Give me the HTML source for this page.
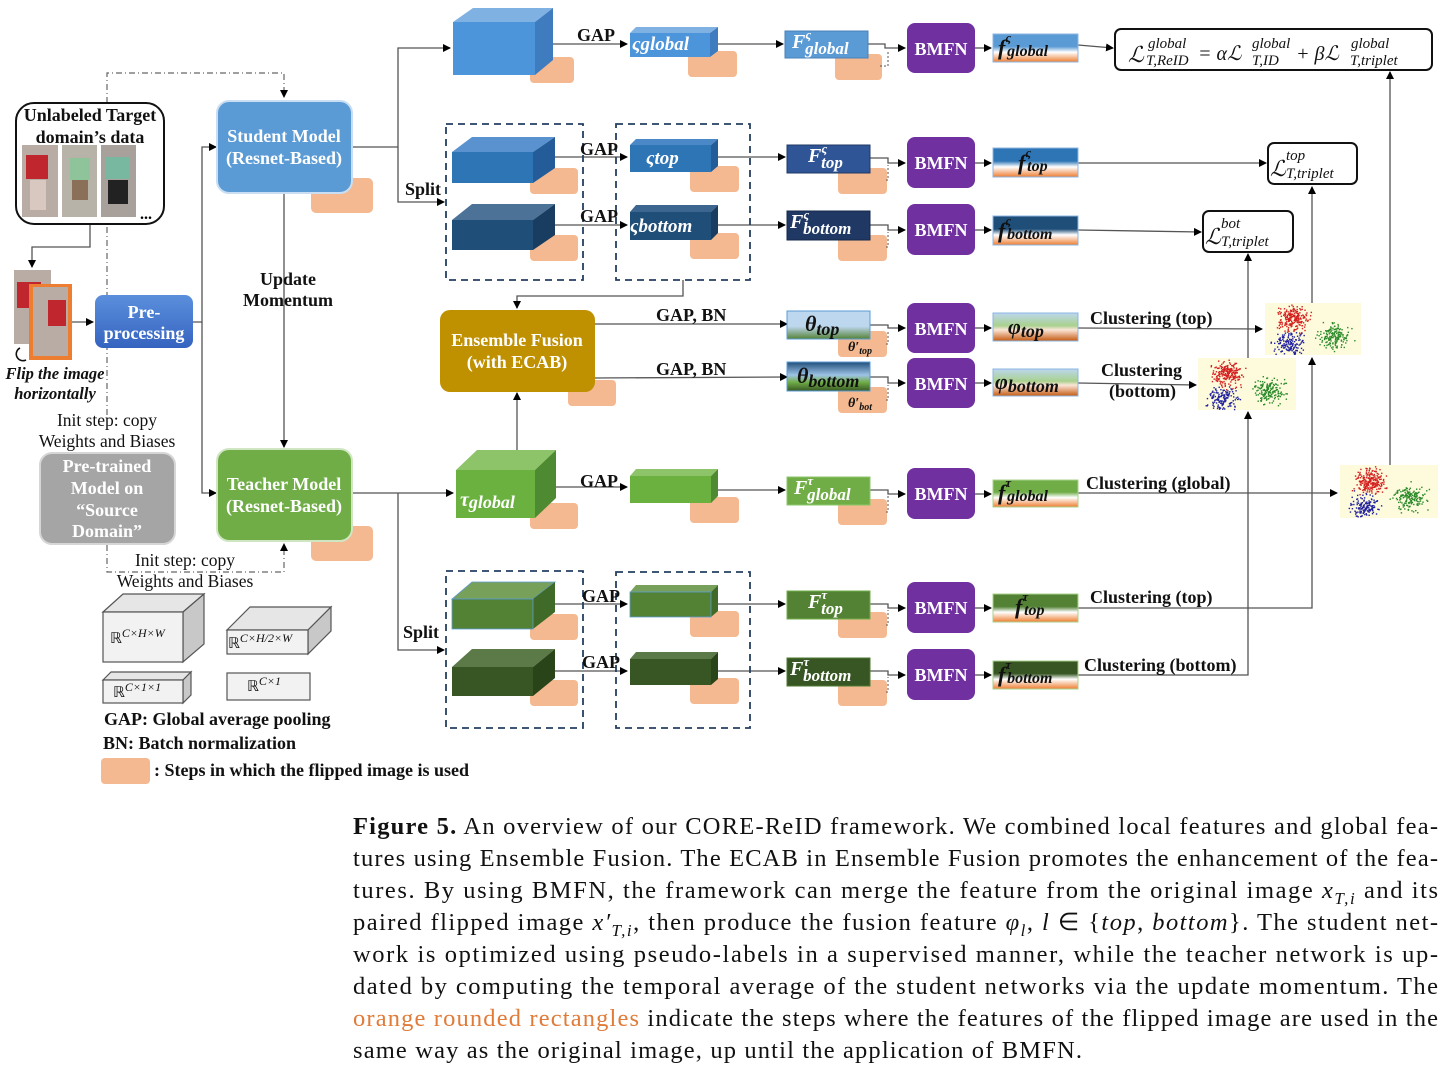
<!DOCTYPE html>
<html><head><meta charset="utf-8"><style>
html,body{margin:0;padding:0;background:#fff;width:1440px;height:1068px;overflow:hidden}
svg{display:block}
text{font-family:"Liberation Serif",serif}
.l{font-size:18px;font-weight:bold;fill:#111}
.w{font-size:18px;font-weight:bold;fill:#fff}
.bm{font-size:18px;font-weight:bold;fill:#fff;text-anchor:middle}
.m{font-style:italic;font-weight:bold}
.c{font-size:24.5px;fill:#111}
</style></head><body>
<svg width="1440" height="1068" viewBox="0 0 1440 1068" xmlns="http://www.w3.org/2000/svg">
<defs>
<marker id="a" markerWidth="8" markerHeight="8" refX="7" refY="4" orient="auto" markerUnits="userSpaceOnUse"><path d="M0,0 L8,4 L0,8z" fill="#000"/></marker>
<linearGradient id="gB" x1="0" y1="0" x2="0" y2="1"><stop offset="0" stop-color="#5b9bd5"/><stop offset=".45" stop-color="#5b9bd5"/><stop offset=".65" stop-color="#fff"/><stop offset="1" stop-color="#ed7d31"/></linearGradient>
<linearGradient id="gT" x1="0" y1="0" x2="0" y2="1"><stop offset="0" stop-color="#2e75b6"/><stop offset=".45" stop-color="#2e75b6"/><stop offset=".65" stop-color="#fff"/><stop offset="1" stop-color="#ed7d31"/></linearGradient>
<linearGradient id="gD" x1="0" y1="0" x2="0" y2="1"><stop offset="0" stop-color="#1f4e79"/><stop offset=".45" stop-color="#1f4e79"/><stop offset=".65" stop-color="#fff"/><stop offset="1" stop-color="#ed7d31"/></linearGradient>
<linearGradient id="gG" x1="0" y1="0" x2="0" y2="1"><stop offset="0" stop-color="#70ad47"/><stop offset=".45" stop-color="#70ad47"/><stop offset=".65" stop-color="#fff"/><stop offset="1" stop-color="#ed7d31"/></linearGradient>
<linearGradient id="gG2" x1="0" y1="0" x2="0" y2="1"><stop offset="0" stop-color="#548235"/><stop offset=".45" stop-color="#548235"/><stop offset=".65" stop-color="#fff"/><stop offset="1" stop-color="#ed7d31"/></linearGradient>
<linearGradient id="gG3" x1="0" y1="0" x2="0" y2="1"><stop offset="0" stop-color="#375623"/><stop offset=".45" stop-color="#375623"/><stop offset=".65" stop-color="#fff"/><stop offset="1" stop-color="#ed7d31"/></linearGradient>
<linearGradient id="gP" x1="0" y1="0" x2="0" y2="1"><stop offset="0" stop-color="#bdd7ee"/><stop offset=".45" stop-color="#a9d18e"/><stop offset=".6" stop-color="#fbe5d6"/><stop offset="1" stop-color="#c55a11"/></linearGradient>
<linearGradient id="gTh" x1="0" y1="0" x2="0" y2="1"><stop offset="0" stop-color="#bdd7ee"/><stop offset=".55" stop-color="#bdd7ee"/><stop offset="1" stop-color="#548235"/></linearGradient>
<linearGradient id="gTb" x1="0" y1="0" x2="0" y2="1"><stop offset="0" stop-color="#1f4e79"/><stop offset=".45" stop-color="#9dc3e6"/><stop offset=".7" stop-color="#70ad47"/><stop offset="1" stop-color="#385723"/></linearGradient>
<linearGradient id="gPre" x1="0" y1="0" x2="0" y2="1"><stop offset="0" stop-color="#5b8fdc"/><stop offset="1" stop-color="#3564c0"/></linearGradient>
</defs>

<g fill="#f4b990">
<rect x="530" y="57" width="44" height="26" rx="4"/>
<rect x="688" y="51" width="49" height="26" rx="4"/>
<rect x="835" y="54" width="47" height="26" rx="4"/>
<rect x="530" y="168" width="48" height="26" rx="4"/>
<rect x="690" y="166" width="49" height="26" rx="4"/>
<rect x="838" y="168" width="49" height="26" rx="4"/>
<rect x="530" y="235" width="48" height="26" rx="4"/>
<rect x="690" y="233" width="49" height="26" rx="4"/>
<rect x="838" y="235" width="49" height="26" rx="4"/>
<rect x="311" y="178" width="62" height="35" rx="5"/>
<rect x="568" y="380" width="48" height="26" rx="4"/>
<rect x="838" y="331" width="49" height="26" rx="4"/>
<rect x="838" y="387" width="49" height="26" rx="4"/>
<rect x="311" y="526" width="62" height="35" rx="5"/>
<rect x="530" y="503" width="48" height="26" rx="4"/>
<rect x="690" y="497" width="49" height="26" rx="4"/>
<rect x="838" y="499" width="49" height="26" rx="4"/>
<rect x="530" y="614" width="48" height="26" rx="4"/>
<rect x="690" y="611" width="49" height="26" rx="4"/>
<rect x="838" y="612" width="49" height="26" rx="4"/>
<rect x="530" y="680" width="48" height="26" rx="4"/>
<rect x="690" y="678" width="49" height="26" rx="4"/>
<rect x="838" y="680" width="49" height="26" rx="4"/>
<rect x="101" y="758" width="49" height="26" rx="4"/>
</g>

<g stroke="#555" stroke-width="1.3" fill="none">
<polyline points="352,147 398,147 398,48 450,48" marker-end="url(#a)"/>
<polyline points="398,147 398,202 444,202" marker-end="url(#a)"/>
<line x1="553" y1="44" x2="627" y2="44" marker-end="url(#a)"/>
<line x1="710" y1="44" x2="783" y2="44" marker-end="url(#a)"/>
<polyline points="868,44 885,44 885,48 905,48" marker-end="url(#a)"/>
<line x1="975" y1="48" x2="991" y2="48" marker-end="url(#a)"/>
<line x1="1078" y1="45" x2="1113" y2="48" marker-end="url(#a)"/>
<line x1="555" y1="157" x2="627" y2="157" marker-end="url(#a)"/>
<line x1="718" y1="157" x2="785" y2="157" marker-end="url(#a)"/>
<polyline points="870,158 888,158 888,163 905,163" marker-end="url(#a)"/>
<line x1="975" y1="163" x2="991" y2="163" marker-end="url(#a)"/>
<line x1="1078" y1="163" x2="1266" y2="163" marker-end="url(#a)"/>
<line x1="555" y1="225" x2="627" y2="225" marker-end="url(#a)"/>
<line x1="718" y1="225" x2="785" y2="225" marker-end="url(#a)"/>
<polyline points="870,225 888,225 888,230 905,230" marker-end="url(#a)"/>
<line x1="975" y1="230" x2="991" y2="230" marker-end="url(#a)"/>
<line x1="1078" y1="230" x2="1201" y2="232" marker-end="url(#a)"/>
<polyline points="683,280 683,296 517,296 517,308" marker-end="url(#a)"/>
<line x1="595" y1="324" x2="787" y2="324" marker-end="url(#a)"/>
<line x1="595" y1="378" x2="787" y2="377" marker-end="url(#a)"/>
<polyline points="870,325 888,325 888,328 905,328" marker-end="url(#a)"/>
<polyline points="870,377 888,377 888,383 905,383" marker-end="url(#a)"/>
<line x1="975" y1="328" x2="991" y2="328" marker-end="url(#a)"/>
<line x1="975" y1="383" x2="991" y2="383" marker-end="url(#a)"/>
<line x1="1078" y1="328" x2="1262" y2="329" marker-end="url(#a)"/>
<line x1="1078" y1="383" x2="1196" y2="385" marker-end="url(#a)"/>
<line x1="1312" y1="303" x2="1312" y2="187" marker-end="url(#a)"/>
<line x1="1248" y1="358" x2="1248" y2="254" marker-end="url(#a)"/>
<line x1="1390" y1="465" x2="1390" y2="72" marker-end="url(#a)"/>
<line x1="517" y1="452" x2="517" y2="393" marker-end="url(#a)"/>
<polyline points="352,493 398,493 398,493 453,493" marker-end="url(#a)"/>
<polyline points="398,493 398,650 444,650" marker-end="url(#a)"/>
<line x1="556" y1="487" x2="627" y2="487" marker-end="url(#a)"/>
<line x1="718" y1="490" x2="785" y2="490" marker-end="url(#a)"/>
<polyline points="870,490 888,490 888,494 905,494" marker-end="url(#a)"/>
<line x1="975" y1="494" x2="991" y2="494" marker-end="url(#a)"/>
<line x1="1078" y1="493" x2="1337" y2="493" marker-end="url(#a)"/>
<line x1="555" y1="604" x2="627" y2="604" marker-end="url(#a)"/>
<line x1="718" y1="604" x2="785" y2="604" marker-end="url(#a)"/>
<polyline points="870,604 888,604 888,608 905,608" marker-end="url(#a)"/>
<line x1="975" y1="608" x2="991" y2="608" marker-end="url(#a)"/>
<polyline points="1078,608 1312,608 1312,358" marker-end="url(#a)"/>
<line x1="555" y1="671" x2="627" y2="671" marker-end="url(#a)"/>
<line x1="718" y1="671" x2="785" y2="671" marker-end="url(#a)"/>
<polyline points="870,671 888,671 888,675 905,675" marker-end="url(#a)"/>
<line x1="975" y1="675" x2="991" y2="675" marker-end="url(#a)"/>
<polyline points="1078,675 1248,675 1248,412" marker-end="url(#a)"/>
<line x1="284" y1="193" x2="284" y2="447" marker-end="url(#a)"/>
<polyline points="90,225 90,247 32,247 32,267" marker-end="url(#a)"/>
<line x1="72" y1="322" x2="93" y2="322" marker-end="url(#a)"/>
<polyline points="193,322 202,322 202,147 216,147" marker-end="url(#a)"/>
<polyline points="202,322 202,493 216,493" marker-end="url(#a)"/>
</g>
<g stroke="#555" stroke-width="1" fill="none" stroke-dasharray="2,2">
<polyline points="880,66 888,66 888,50"/><polyline points="886,180 888,180 888,165"/><polyline points="886,247 888,247 888,232"/>
<polyline points="886,344 888,344 888,330"/><polyline points="886,400 888,400 888,385"/><polyline points="886,512 888,512 888,496"/>
<polyline points="886,625 888,625 888,610"/><polyline points="886,692 888,692 888,677"/>
</g>
<g stroke="#666" stroke-width="1.2" fill="none" stroke-dasharray="6,3,1,3">
<polyline points="107,415 107,73 284,73 284,97" marker-end="url(#a)"/>
<polyline points="107,545 107,572 284,572 284,544" marker-end="url(#a)"/>
</g>
<g fill="none" stroke="#243f60" stroke-width="1.8" stroke-dasharray="7,5">
<rect x="446" y="124" width="137" height="156"/><rect x="616" y="124" width="134" height="156"/>
<rect x="446" y="571" width="137" height="157"/><rect x="616" y="572" width="134" height="156"/>
</g>

<polygon points="453,22 473,8 553,8 535,22" fill="#7fb1e3"/><polygon points="535,22 553,8 553,60 535,75" fill="#3f7cbf"/><rect x="453" y="22" width="82" height="53" fill="#4d95db"/>
<polygon points="452,152 472,137 555,137 533,152" fill="#5a92cf"/><polygon points="533,152 555,137 555,168 533,183" fill="#245c99"/><rect x="452" y="152" width="81" height="31" fill="#2e75b6"/>
<polygon points="452,220 472,204 555,204 533,220" fill="#4c7297"/><polygon points="533,220 555,204 555,235 533,250" fill="#183d60"/><rect x="452" y="220" width="81" height="30" fill="#1f4e79"/>
<polygon points="630,33 636,27 718,27 710,33" fill="#7fb1e3"/><polygon points="710,33 718,27 718,51 710,57" fill="#3f7cbf"/><rect x="630" y="33" width="80" height="24" fill="#4d95db"/>
<polygon points="630,145 636,139 718,139 711,145" fill="#4a88c8"/><polygon points="711,145 718,139 718,166 711,172" fill="#245c99"/><rect x="630" y="145" width="81" height="27" fill="#2e75b6"/>
<polygon points="630,212 636,205 718,205 711,212" fill="#3c6690"/><polygon points="711,212 718,205 718,233 711,240" fill="#183d60"/><rect x="630" y="212" width="81" height="28" fill="#1f4e79"/>
<polygon points="456,470 477,450 556,450 535,470" fill="#8dc46a"/><polygon points="535,470 556,450 556,498 535,518" fill="#4e8a31"/><rect x="456" y="470" width="79" height="48" fill="#6bb140"/>
<polygon points="630,476 636,469 718,469 711,476" fill="#8dc46a"/><polygon points="711,476 718,469 718,496 711,503" fill="#4e8a31"/><rect x="630" y="476" width="81" height="27" fill="#6bb140"/>
<polygon points="452,599 472,582 555,582 533,599" fill="#77a05b" stroke="#5b9bd5" stroke-width=".8"/><polygon points="533,599 555,582 555,612 533,629" fill="#3f6a28"/><rect x="452" y="599" width="81" height="30" fill="#548235" stroke="#5b9bd5" stroke-width=".8"/>
<polygon points="452,667 472,649 555,649 533,667" fill="#5c7a48"/><polygon points="533,667 555,649 555,678 533,696" fill="#2a4419"/><rect x="452" y="667" width="81" height="29" fill="#375623"/>
<polygon points="630,592 636,585 718,585 711,592" fill="#77a05b"/><polygon points="711,592 718,585 718,611 711,617" fill="#3f6a28"/><rect x="630" y="592" width="81" height="25" fill="#548235" stroke="#5b9bd5" stroke-width=".8"/>
<polygon points="630,659 636,652 718,652 711,659" fill="#5c7a48"/><polygon points="711,659 718,652 718,679 711,685" fill="#2a4419"/><rect x="630" y="659" width="81" height="26" fill="#375623"/>

<rect x="785" y="31" width="83" height="27" fill="#5b9bd5" stroke="#4a80b8"/>
<rect x="787" y="145" width="83" height="28" fill="#2f5597" stroke="#203864"/>
<rect x="787" y="211" width="83" height="29" fill="#1f3864" stroke="#152848"/>
<rect x="787" y="311" width="83" height="28" fill="url(#gTh)" stroke="#5b9bd5"/>
<rect x="787" y="362" width="83" height="29" fill="url(#gTb)" stroke="#5b9bd5"/>
<rect x="787" y="477" width="83" height="28" fill="#70ad47" stroke="#8bc66a"/>
<rect x="787" y="591" width="83" height="28" fill="#548235" stroke="#70ad47"/>
<rect x="787" y="658" width="83" height="28" fill="#375623" stroke="#4e7a33"/>
<rect x="993" y="34" width="85" height="28" fill="url(#gB)" stroke="#8db4e2"/>
<rect x="993" y="148" width="85" height="29" fill="url(#gT)" stroke="#8db4e2"/>
<rect x="993" y="216" width="85" height="29" fill="url(#gD)" stroke="#8db4e2"/>
<rect x="993" y="313" width="85" height="28" fill="url(#gP)" stroke="#8db4e2"/>
<rect x="993" y="369" width="85" height="27" fill="url(#gP)" stroke="#8db4e2"/>
<rect x="993" y="480" width="85" height="27" fill="url(#gG)" stroke="#a9d18e"/>
<rect x="993" y="594" width="85" height="28" fill="url(#gG2)" stroke="#a9d18e"/>
<rect x="993" y="661" width="85" height="28" fill="url(#gG3)" stroke="#a9d18e"/>
<g fill="#7030a0">
<rect x="907" y="23" width="68" height="50" rx="8"/><rect x="907" y="137" width="68" height="51" rx="8"/><rect x="907" y="204" width="68" height="51" rx="8"/>
<rect x="907" y="303" width="68" height="50" rx="8"/><rect x="907" y="358" width="68" height="50" rx="8"/><rect x="907" y="468" width="68" height="51" rx="8"/>
<rect x="907" y="582" width="68" height="51" rx="8"/><rect x="907" y="649" width="68" height="51" rx="8"/>
</g>
<g class="bm"><text x="941" y="55">BMFN</text><text x="941" y="169">BMFN</text><text x="941" y="236">BMFN</text><text x="941" y="335">BMFN</text><text x="941" y="390">BMFN</text><text x="941" y="500">BMFN</text><text x="941" y="614">BMFN</text><text x="941" y="681">BMFN</text></g>

<g fill="#fff" stroke="#111" stroke-width="2"><rect x="1115" y="29" width="317" height="41" rx="6"/><rect x="1268" y="143" width="89" height="41" rx="6"/><rect x="1203" y="211" width="90" height="41" rx="6"/></g>
<g font-style="italic" fill="#111">
<text x="1128" y="62" font-size="22">ℒ</text><text x="1146" y="65" font-size="15">T,ReID</text><text x="1148" y="48" font-size="15">global</text>
<text x="1198" y="60" font-size="20">= αℒ</text><text x="1252" y="65" font-size="15">T,ID</text><text x="1252" y="48" font-size="15">global</text>
<text x="1296" y="60" font-size="20">+ βℒ</text><text x="1350" y="65" font-size="15">T,triplet</text><text x="1351" y="48" font-size="15">global</text>
<text x="1270" y="176" font-size="22">ℒ</text><text x="1286" y="160" font-size="15">top</text><text x="1286" y="178" font-size="15">T,triplet</text>
<text x="1205" y="244" font-size="22">ℒ</text><text x="1221" y="228" font-size="15">bot</text><text x="1221" y="246" font-size="15">T,triplet</text>
</g>

<rect x="1265" y="303" width="96" height="52" fill="#fdfbdc"/>
<rect x="1198" y="358" width="98" height="52" fill="#fdfbdc"/>
<rect x="1340" y="465" width="98" height="53" fill="#fdfbdc"/>
<g id="sc"></g>

<g class="w m">
<text x="632" y="50" font-size="19">ς<tspan>global</tspan></text>
<text x="646" y="164" font-size="19">ς<tspan>top</tspan></text>
<text x="630" y="232" font-size="19">ς<tspan>bottom</tspan></text>
<text x="792" y="48" font-size="20">F<tspan font-size="13" dy="-9">ς</tspan><tspan font-size="17" dy="15" dx="-6">global</tspan></text>
<text x="808" y="162" font-size="20">F<tspan font-size="13" dy="-9">ς</tspan><tspan font-size="17" dy="15" dx="-6">top</tspan></text>
<text x="790" y="228" font-size="20">F<tspan font-size="13" dy="-9">ς</tspan><tspan font-size="17" dy="15" dx="-6">bottom</tspan></text>
<text x="794" y="494" font-size="20">F<tspan font-size="13" dy="-9">τ</tspan><tspan font-size="17" dy="15" dx="-6">global</tspan></text>
<text x="808" y="608" font-size="20">F<tspan font-size="13" dy="-9">τ</tspan><tspan font-size="17" dy="15" dx="-6">top</tspan></text>
<text x="790" y="675" font-size="20">F<tspan font-size="13" dy="-9">τ</tspan><tspan font-size="17" dy="15" dx="-6">bottom</tspan></text>
<text x="460" y="506" font-size="20">τ<tspan font-size="18" dy="2">global</tspan></text>
</g>
<g class="m" fill="#111">
<text x="998" y="55" font-size="22">f<tspan font-size="13" dy="-13">ς</tspan><tspan font-size="16" dy="14" dx="-4">global</tspan></text>
<text x="1018" y="170" font-size="22">f<tspan font-size="13" dy="-13">ς</tspan><tspan font-size="16" dy="14" dx="-4">top</tspan></text>
<text x="998" y="238" font-size="22">f<tspan font-size="13" dy="-13">ς</tspan><tspan font-size="16" dy="14" dx="-4">bottom</tspan></text>
<text x="998" y="500" font-size="22">f<tspan font-size="13" dy="-13">τ</tspan><tspan font-size="16" dy="14" dx="-4">global</tspan></text>
<text x="1015" y="614" font-size="22">f<tspan font-size="13" dy="-13">τ</tspan><tspan font-size="16" dy="14" dx="-4">top</tspan></text>
<text x="998" y="682" font-size="22">f<tspan font-size="13" dy="-13">τ</tspan><tspan font-size="16" dy="14" dx="-4">bottom</tspan></text>
<text x="805" y="331" font-size="22">θ<tspan font-size="18" dy="4">top</tspan></text>
<text x="797" y="383" font-size="22">θ<tspan font-size="18" dy="4">bottom</tspan></text>
<text x="1008" y="334" font-size="22">φ<tspan font-size="18" dy="3">top</tspan></text>
<text x="995" y="389" font-size="22">φ<tspan font-size="18" dy="3">bottom</tspan></text>
<text x="848" y="351" font-size="14">θ′<tspan font-size="10" dy="3">top</tspan></text>
<text x="848" y="407" font-size="14">θ′<tspan font-size="10" dy="3">bot</tspan></text>
</g>

<g class="l">
<text x="577" y="41">GAP</text><text x="580" y="155">GAP</text><text x="580" y="222">GAP</text>
<text x="580" y="487">GAP</text><text x="582" y="602">GAP</text><text x="582" y="668">GAP</text>
<text x="405" y="195">Split</text><text x="403" y="638">Split</text>
<text x="656" y="321">GAP, BN</text><text x="656" y="375">GAP, BN</text>
<text x="1090" y="324">Clustering (top)</text>
<text x="1101" y="376">Clustering</text><text x="1109" y="397">(bottom)</text>
<text x="1086" y="489">Clustering (global)</text>
<text x="1090" y="603">Clustering (top)</text>
<text x="1084" y="671">Clustering (bottom)</text>
<text x="288" y="285" text-anchor="middle">Update</text><text x="288" y="306" text-anchor="middle">Momentum</text>
</g>
<g font-size="17.5" fill="#111">
<text x="107" y="426" text-anchor="middle">Init step: copy</text><text x="107" y="447" text-anchor="middle">Weights and Biases</text>
<text x="185" y="566" text-anchor="middle">Init step: copy</text><text x="185" y="587" text-anchor="middle">Weights and Biases</text>
</g>

<rect x="440" y="310" width="155" height="82" rx="10" fill="#bf9000"/>
<text class="bm" x="517" y="346">Ensemble Fusion</text><text class="bm" x="517" y="368">(with ECAB)</text>
<rect x="217" y="101" width="135" height="92" rx="12" fill="#5b9bd5" stroke="#c9def2" stroke-width="2"/>
<text class="bm" x="284" y="142">Student Model</text><text class="bm" x="284" y="164">(Resnet-Based)</text>
<rect x="217" y="449" width="135" height="92" rx="12" fill="#70ad47" stroke="#d0e6c2" stroke-width="2"/>
<text class="bm" x="284" y="490">Teacher Model</text><text class="bm" x="284" y="512">(Resnet-Based)</text>
<rect x="95" y="295" width="98" height="53" rx="8" fill="url(#gPre)"/>
<text class="bm" x="144" y="318">Pre-</text><text class="bm" x="144" y="339">processing</text>
<rect x="40" y="453" width="135" height="91" rx="12" fill="#a5a5a5" stroke="#d6d6d6" stroke-width="2"/>
<g class="bm"><text x="107" y="472">Pre-trained</text><text x="107" y="494">Model on</text><text x="107" y="516">“Source</text><text x="107" y="537">Domain”</text></g>

<rect x="16" y="103" width="148" height="121" rx="18" fill="#fff" stroke="#111" stroke-width="2"/>
<text class="l" x="90" y="121" text-anchor="middle">Unlabeled Target</text>
<text class="l" x="90" y="143" text-anchor="middle">domain’s data</text>
<rect x="22" y="145" width="36" height="72" fill="#b8aca4"/><rect x="26" y="155" width="22" height="24" fill="#c0262e"/><rect x="30" y="180" width="16" height="30" fill="#d8c8c0"/>
<rect x="62" y="145" width="35" height="72" fill="#b7b3a8"/><rect x="70" y="158" width="20" height="22" fill="#8fc49a"/><rect x="72" y="180" width="16" height="20" fill="#8a7058"/>
<rect x="101" y="145" width="35" height="72" fill="#a8a09a"/><rect x="106" y="157" width="24" height="22" fill="#78b8a0"/><rect x="108" y="180" width="20" height="24" fill="#222"/>
<text x="140" y="219" font-size="16" font-weight="bold">...</text>
<rect x="14" y="270" width="37" height="74" fill="#b8aca4"/><rect x="17" y="282" width="24" height="26" fill="#c0262e"/>
<rect x="29" y="284" width="43" height="76" fill="#ed7d31"/><rect x="33" y="287" width="35" height="69" fill="#b8aca4"/><rect x="48" y="300" width="18" height="26" fill="#c0262e"/>
<path d="M20,348 a6,6 0 1 0 6,12" fill="none" stroke="#111" stroke-width="1.6"/>
<g font-style="italic" font-weight="bold" font-size="16.5" fill="#111"><text x="55" y="379" text-anchor="middle">Flip the image</text><text x="55" y="399" text-anchor="middle">horizontally</text></g>

<g stroke="#555" stroke-width="1.2">
<polygon points="103,612 123,594 204,594 183,612" fill="#e6e6e6"/><polygon points="183,612 204,594 204,644 183,662" fill="#c8c8c8"/><rect x="103" y="612" width="80" height="50" fill="#f2f2f2"/>
<polygon points="227,630 250,607 331,607 308,630" fill="#e6e6e6"/><polygon points="308,630 331,607 331,631 308,654" fill="#c8c8c8"/><rect x="227" y="630" width="81" height="24" fill="#f2f2f2"/>
<polygon points="103,680 111,672 191,672 183,680" fill="#e6e6e6"/><polygon points="183,680 191,672 191,695 183,703" fill="#c8c8c8"/><rect x="103" y="680" width="80" height="23" fill="#f2f2f2"/>
<rect x="227" y="673" width="83" height="27" fill="#f2f2f2"/>
</g>
<g font-size="15" fill="#111">
<text x="110" y="643">ℝ<tspan font-style="italic" font-size="12" dy="-6">C×H×W</tspan></text>
<text x="228" y="648">ℝ<tspan font-style="italic" font-size="12" dy="-6">C×H/2×W</tspan></text>
<text x="113" y="697">ℝ<tspan font-style="italic" font-size="12" dy="-6">C×1×1</tspan></text>
<text x="247" y="691">ℝ<tspan font-style="italic" font-size="12" dy="-6">C×1</tspan></text>
</g>
<g class="l"><text x="104" y="725">GAP: Global average pooling</text><text x="103" y="749">BN: Batch normalization</text><text x="154" y="776">: Steps in which the flipped image is used</text></g>

<g class="c">
<text x="353" y="834" textLength="1085" lengthAdjust="spacing"><tspan font-weight="bold">Figure 5.</tspan> An overview of our CORE-ReID framework. We combined local features and global fea-</text>
<text x="353" y="866" textLength="1085" lengthAdjust="spacing">tures using Ensemble Fusion. The ECAB in Ensemble Fusion promotes the enhancement of the fea-</text>
<text x="353" y="898" textLength="1085" lengthAdjust="spacing">tures. By using BMFN, the framework can merge the feature from the original image <tspan font-style="italic">x</tspan><tspan font-style="italic" font-size="17" dy="6">T,i</tspan><tspan dy="-6"> and its</tspan></text>
<text x="353" y="930" textLength="1085" lengthAdjust="spacing">paired flipped image <tspan font-style="italic">x′</tspan><tspan font-style="italic" font-size="17" dy="6">T,i</tspan><tspan dy="-6">, then produce the fusion feature  </tspan><tspan font-style="italic">φ</tspan><tspan font-style="italic" font-size="17" dy="6">l</tspan><tspan dy="-6">, </tspan><tspan font-style="italic">l</tspan> ∈ {<tspan font-style="italic">top</tspan>, <tspan font-style="italic">bottom</tspan>}. The student net-</text>
<text x="353" y="962" textLength="1085" lengthAdjust="spacing">work is optimized using pseudo-labels in a supervised manner, while the teacher network is up-</text>
<text x="353" y="994" textLength="1085" lengthAdjust="spacing">dated by computing the temporal average of the student networks via the update momentum. The</text>
<text x="353" y="1026" textLength="1085" lengthAdjust="spacing"><tspan fill="#e07b39">orange rounded rectangles</tspan> indicate the steps where the features of the flipped image are used in the</text>
<text x="353" y="1058" textLength="729" lengthAdjust="spacing">same way as the original image, up until the application of BMFN.</text>
</g>
</svg>
<script>
(function(){
var g=document.getElementById('sc'),s=7,ns='http://www.w3.org/2000/svg';
function r(){s=(s*9301+49297)%233280;return s/233280;}
function n(){return (r()+r()+r()-1.5)/1.5;}
var imgs=[[1265,303,96,52],[1198,358,98,52],[1340,465,98,53]];
imgs.forEach(function(b){
 var cl=[[.3,.3,'#d42020',220],[.25,.78,'#2020a0',150],[.72,.62,'#2a8a2a',170]];
 cl.forEach(function(c){for(var i=0;i<c[3];i++){var e=document.createElementNS(ns,'rect');
  var x=b[0]+b[2]*(c[0]+n()*.22),y=b[1]+b[3]*(c[1]+n()*.34);
  if(x<b[0]||x>b[0]+b[2]-1||y<b[1]||y>b[1]+b[3]-1)continue;
  e.setAttribute('x',x);e.setAttribute('y',y);e.setAttribute('width',1.4);e.setAttribute('height',1.4);e.setAttribute('fill',c[2]);g.appendChild(e);}});
});
})();
</script>
</body></html>
